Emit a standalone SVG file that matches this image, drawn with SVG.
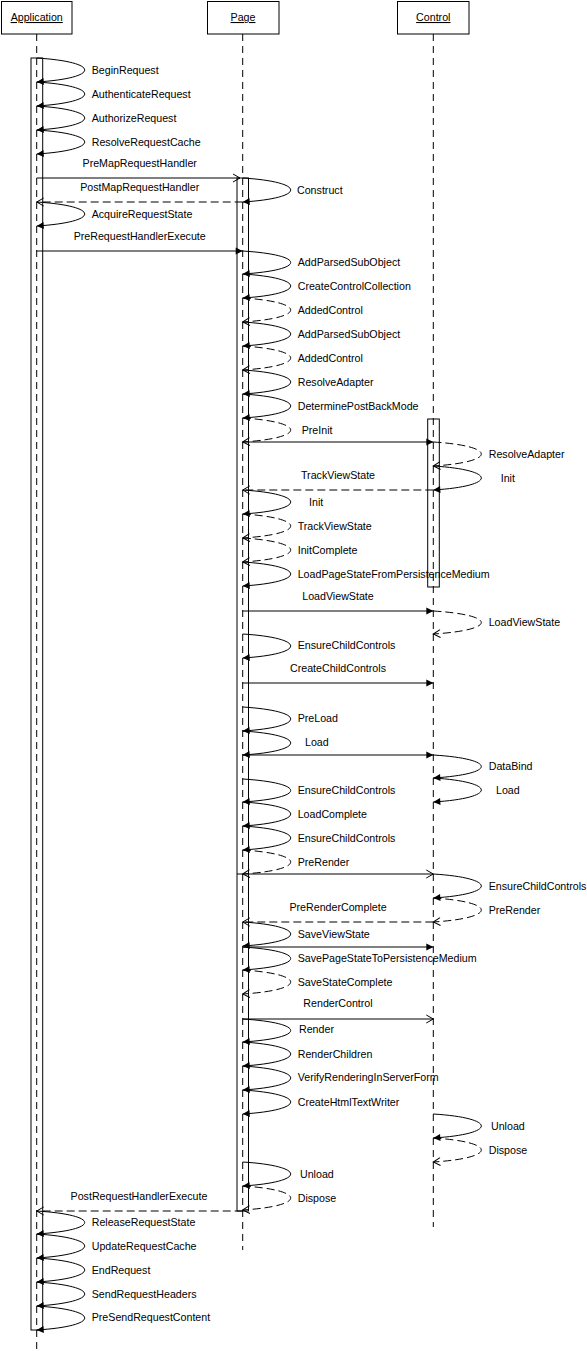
<svg xmlns="http://www.w3.org/2000/svg" width="587" height="1351" viewBox="0 0 587 1351">
<style>
text{font-family:"Liberation Sans",Arial,sans-serif;font-size:10.67px;fill:#000}
.hd{text-anchor:middle;text-decoration:underline}
.box{fill:#fff;stroke:#000;stroke-width:1}
.life{stroke:#000;stroke-width:1;stroke-dasharray:7 5;fill:none}
.act{fill:none;stroke:#000;stroke-width:1}
.s{fill:none;stroke:#000;stroke-width:1}
.d{fill:none;stroke:#000;stroke-width:1;stroke-dasharray:8 4}
.sf{marker-end:url(#f)}
.so{marker-end:url(#o)}
.m{text-anchor:middle}
</style>
<defs>
<marker id="f" markerUnits="userSpaceOnUse" markerWidth="10" markerHeight="10" refX="7" refY="4" orient="auto" overflow="visible">
<path d="M0,0.5 L7,4 L0,7.5 z" fill="#000" stroke="none"/>
</marker>
<marker id="o" markerUnits="userSpaceOnUse" markerWidth="10" markerHeight="10" refX="7" refY="4" orient="auto" overflow="visible">
<path d="M0,0 L7,4 L0,8" fill="none" stroke="#000" stroke-width="1" stroke-dasharray="none"/>
</marker>
</defs>
<rect width="587" height="1351" fill="#fff"/>
<g id="application">
<rect class="box" x="1.5" y="1.5" width="70.5" height="32.5"/>
<text class="hd" x="36.7" y="21">Application</text>
<line class="life" x1="36.7" y1="34" x2="36.7" y2="1351"/>
<rect class="act" x="31" y="58" width="11.7" height="1272"/>
</g>
<g id="page">
<rect class="box" x="207.5" y="1.5" width="71.5" height="32.5"/>
<text class="hd" x="243" y="21">Page</text>
<line class="life" x1="242.7" y1="34" x2="242.7" y2="1250"/>
<rect class="act" x="237" y="178" width="11.5" height="1033"/>
</g>
<g id="control">
<rect class="box" x="397.5" y="1.5" width="71.5" height="32.5"/>
<text class="hd" x="433.3" y="21">Control</text>
<line class="life" x1="433.3" y1="34" x2="433.3" y2="1227"/>
<rect class="act" x="427.7" y="419" width="11.6" height="168"/>
</g>
<g id="connectors">
<!-- Application start -->
<path class="s sf" d="M36.7,58 C100.7,62 100.7,78 36.7,82"/><text x="91.7" y="74">BeginRequest</text>
<path class="s sf" d="M36.7,82 C100.7,86 100.7,102 36.7,106"/><text x="91.7" y="98">AuthenticateRequest</text>
<path class="s sf" d="M36.7,106 C100.7,110 100.7,126 36.7,130"/><text x="91.7" y="122">AuthorizeRequest</text>
<path class="s sf" d="M36.7,130 C100.7,134 100.7,150 36.7,154"/><text x="91.7" y="146">ResolveRequestCache</text>
<path class="s so" d="M36.7,178 H240"/><text class="m" x="139.7" y="167">PreMapRequestHandler</text>
<path class="s sf" d="M242.7,178 C306.7,182 306.7,198 242.7,202"/><text x="297" y="194">Construct</text>
<path class="d so" d="M242.7,202 H36.7"/><text class="m" x="139.7" y="191">PostMapRequestHandler</text>
<path class="s sf" d="M36.7,202 C100.7,206 100.7,222 36.7,226"/><text x="91.7" y="218">AcquireRequestState</text>
<path class="s sf" d="M36.7,251 H242.7"/><text class="m" x="139.7" y="240">PreRequestHandlerExecute</text>
<!-- Page -->
<path class="s sf" d="M242.7,251 C306.7,255 306.7,270 242.7,274"/><text x="297.7" y="266">AddParsedSubObject</text>
<path class="s sf" d="M242.7,274 C306.7,278 306.7,294 242.7,298"/><text x="297.7" y="290">CreateControlCollection</text>
<path class="d so" d="M242.7,298 C306.7,302 306.7,318 242.7,322"/><text x="297.7" y="314">AddedControl</text>
<path class="s sf" d="M242.7,322 C306.7,326 306.7,342 242.7,346"/><text x="297.7" y="338">AddParsedSubObject</text>
<path class="d so" d="M242.7,346 C306.7,350 306.7,366 242.7,370"/><text x="297.7" y="362">AddedControl</text>
<path class="s sf" d="M242.7,370 C306.7,374 306.7,390 242.7,394"/><text x="297.7" y="386">ResolveAdapter</text>
<path class="s sf" d="M242.7,394 C306.7,398 306.7,414 242.7,418"/><text x="297.7" y="410">DeterminePostBackMode</text>
<path class="d so" d="M242.7,418 C306.7,422 306.7,438 242.7,442"/><text x="301.7" y="434">PreInit</text>
<path class="s sf" d="M242.7,442 H433.3"/>
<path class="d so" d="M433.3,442 C497.3,446 497.3,462 433.3,466"/><text x="488.7" y="458">ResolveAdapter</text>
<path class="s sf" d="M433.3,466 C497.3,470 497.3,486 433.3,490"/><text x="500.7" y="482">Init</text>
<path class="d so" d="M433.3,490 H242.7"/><text class="m" x="338" y="479">TrackViewState</text>
<path class="s sf" d="M242.7,490 C306.7,494 306.7,510 242.7,514"/><text x="309" y="506">Init</text>
<path class="d so" d="M242.7,514 C306.7,518 306.7,534 242.7,538"/><text x="297.7" y="530">TrackViewState</text>
<path class="d so" d="M242.7,538 C306.7,542 306.7,558 242.7,562"/><text x="297.7" y="554">InitComplete</text>
<path class="s sf" d="M242.7,562 C306.7,566 306.7,582 242.7,586"/><text x="297.7" y="578">LoadPageStateFromPersistenceMedium</text>
<path class="s sf" d="M242.7,611 H433.3"/><text class="m" x="338" y="600">LoadViewState</text>
<path class="d so" d="M433.3,611 C497.3,615 497.3,630 433.3,634"/><text x="488.7" y="626">LoadViewState</text>
<path class="s sf" d="M242.7,634 C306.7,638 306.7,654 242.7,658"/><text x="297.7" y="649">EnsureChildControls</text>
<path class="s sf" d="M242.7,683 H433.3"/><text class="m" x="338" y="672">CreateChildControls</text>
<path class="s sf" d="M242.7,707 C306.7,711 306.7,727 242.7,731"/><text x="297.7" y="722">PreLoad</text>
<path class="s sf" d="M242.7,731 C306.7,735 306.7,751 242.7,755"/><text x="305" y="746">Load</text>
<path class="s sf" d="M242.7,755 H433.3"/>
<path class="s sf" d="M433.3,755 C497.3,759 497.3,774 433.3,778"/><text x="488.7" y="770">DataBind</text>
<path class="s sf" d="M433.3,778 C497.3,782 497.3,798 433.3,802"/><text x="496" y="794">Load</text>
<path class="s sf" d="M242.7,779 C306.7,783 306.7,798 242.7,802"/><text x="297.7" y="794">EnsureChildControls</text>
<path class="s sf" d="M242.7,802 C306.7,806 306.7,822 242.7,826"/><text x="297.7" y="818">LoadComplete</text>
<path class="s sf" d="M242.7,826 C306.7,830 306.7,846 242.7,850"/><text x="297.7" y="842">EnsureChildControls</text>
<path class="d so" d="M242.7,850 C306.7,854 306.7,870 242.7,874"/><text x="297.7" y="866">PreRender</text>
<path class="s so" d="M237,874 H433.3"/>
<path class="s sf" d="M433.3,874 C497.3,878 497.3,894 433.3,898"/><text x="488.7" y="890">EnsureChildControls</text>
<path class="d so" d="M433.3,898 C497.3,902 497.3,918 433.3,922"/><text x="488.7" y="914">PreRender</text>
<path class="d so" d="M433.3,922 H242.7"/><text class="m" x="338" y="911">PreRenderComplete</text>
<path class="s sf" d="M242.7,922 C306.7,926 306.7,942 242.7,946"/><text x="297.7" y="938">SaveViewState</text>
<path class="s sf" d="M242.7,947 H433.3"/>
<path class="s sf" d="M242.7,947 C306.7,951 306.7,966 242.7,970"/><text x="297.7" y="962">SavePageStateToPersistenceMedium</text>
<path class="d so" d="M242.7,970 C306.7,974 306.7,990 242.7,994"/><text x="297.7" y="986">SaveStateComplete</text>
<path class="s so" d="M242.7,1019 H433.3"/><text class="m" x="338" y="1007">RenderControl</text>
<path class="s sf" d="M242.7,1019 C306.7,1023 306.7,1038 242.7,1042"/><text x="299" y="1033">Render</text>
<path class="s sf" d="M242.7,1042 C306.7,1046 306.7,1062 242.7,1066"/><text x="297.7" y="1058">RenderChildren</text>
<path class="s sf" d="M242.7,1066 C306.7,1070 306.7,1086 242.7,1090"/><text x="297.7" y="1081">VerifyRenderingInServerForm</text>
<path class="s sf" d="M242.7,1090 C306.7,1094 306.7,1110 242.7,1114"/><text x="297.7" y="1106">CreateHtmlTextWriter</text>
<path class="s sf" d="M433.3,1114 C497.3,1118 497.3,1134 433.3,1138"/><text x="491" y="1130">Unload</text>
<path class="d so" d="M433.3,1138 C497.3,1142 497.3,1158 433.3,1162"/><text x="488.7" y="1154">Dispose</text>
<path class="s sf" d="M242.7,1162 C306.7,1166 306.7,1182 242.7,1186"/><text x="300" y="1178">Unload</text>
<path class="d so" d="M242.7,1186 C306.7,1190 306.7,1206 242.7,1210"/><text x="297.7" y="1202">Dispose</text>
<path class="d so" d="M242.7,1211 H36.7"/><text class="m" x="139" y="1200">PostRequestHandlerExecute</text>
<!-- Application end -->
<path class="s sf" d="M36.7,1211 C100.7,1215 100.7,1230 36.7,1234"/><text x="91.7" y="1226">ReleaseRequestState</text>
<path class="s sf" d="M36.7,1234 C100.7,1238 100.7,1254 36.7,1258"/><text x="91.7" y="1250">UpdateRequestCache</text>
<path class="s sf" d="M36.7,1258 C100.7,1262 100.7,1278 36.7,1282"/><text x="91.7" y="1274">EndRequest</text>
<path class="s sf" d="M36.7,1282 C100.7,1286 100.7,1302 36.7,1306"/><text x="91.7" y="1298">SendRequestHeaders</text>
<path class="s sf" d="M36.7,1306 C100.7,1310 100.7,1326 36.7,1330"/><text x="91.7" y="1321">PreSendRequestContent</text>
</g>
</svg>
